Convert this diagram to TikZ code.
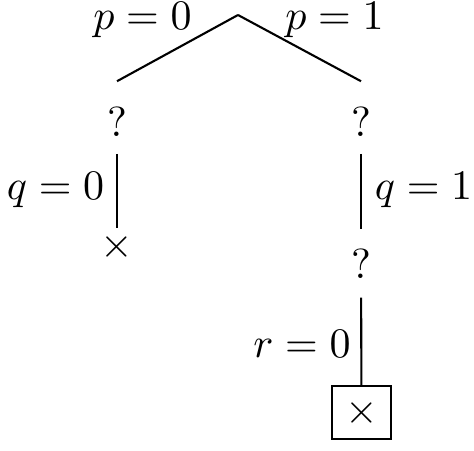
\documentclass[tikz,border=0pt]{standalone}
\usepackage{amsmath, amssymb, tikz}
\usetikzlibrary{arrows, positioning}

\begin{document}
\begin{tikzpicture}[x=0.238pt, y=-0.238pt]
			\tikzstyle{Query} = [inner sep=3.33pt]
			\tikzstyle{Leaf} = [inner sep=3.33pt]
			\tikzstyle{Result} = [rectangle, draw=black, line width=0.5pt, minimum width=14pt, minimum height=12.6pt, inner sep=0pt]
			\tikzstyle{Label} = [inner sep=0pt]
			\tikzstyle{line} = [line width=0.5pt]
			
			\useasboundingbox (0,0) rectangle (474,450);
			
			\coordinate (root) at (238,15);
			
			\node (queryLeft) [Query] at (117,122) {$?$};
			\node (queryRight) [Query] at (361,122) {$?$};
			
			\node (leafLeft) [Leaf] at (117,247) {$\times$};
			\node (queryRightTwo) [Query] at (361,264) {$?$};
			
			\node (result) [Result] at (361.5,412.5) {$\times$};
			
			
			\node (labelP0) [Label] at (142.5,20.5) {$p=0$};
			\node (labelP1) [Label] at (334.5,20.5) {$p=1$};
			\node (labelQ0) [Label] at (55.5,190.5) {$q=0$};
			\node (labelQ1) [Label] at (423.5,190.5) {$q=1$};
			\node (labelR0) [Label] at (302,343.5) {$r=0$};
			
			
			\draw[line] (root) -- ([yshift=2.7pt]queryLeft.north);
			\draw[line] (root) -- ([yshift=2.7pt]queryRight.north);
			\draw[line, shorten <=0.6pt, shorten >=-2.3pt] (queryLeft) -- (leafLeft);
			\draw[line, shorten <=0.6pt, shorten >=1.4pt] (queryRight) -- (queryRightTwo);
			\draw[line, shorten <=1pt] (queryRightTwo) -- (result);
		\end{tikzpicture}
\end{document}
